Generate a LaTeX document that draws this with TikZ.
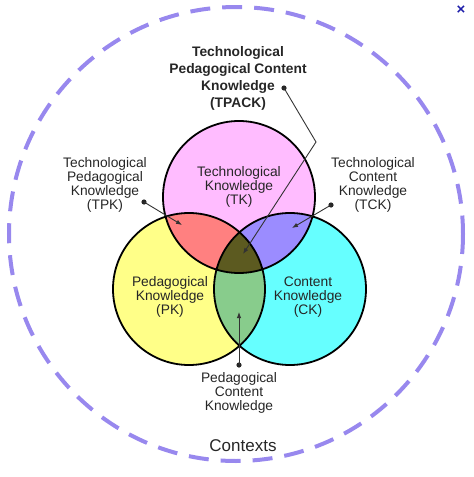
\documentclass[tikz,border=0pt]{standalone}
\usepackage{fontspec}
\setmainfont{Liberation Sans}
\usetikzlibrary{arrows.meta}
\definecolor{tkpink}{RGB}{255,188,255}
\definecolor{pkyellow}{RGB}{255,255,136}
\definecolor{ckcyan}{RGB}{102,255,255}
\definecolor{tpred}{RGB}{255,128,128}
\definecolor{tcviolet}{RGB}{155,140,255}
\definecolor{pcgreen}{RGB}{136,204,140}
\definecolor{tpcolive}{RGB}{92,90,32}
\definecolor{ctxpurple}{RGB}{152,136,238}
\definecolor{xblue}{RGB}{30,30,170}

\begin{document}
\begin{tikzpicture}[x=1pt,y=-1pt,>={Latex[length=6pt,width=4.5pt]},
  every node/.style={align=center,inner sep=0pt,text=black!85},
  lbl/.style={font=\fontsize{13.8}{14}\selectfont},
  pointer/.style={->,black!80,line width=.9pt}]
\useasboundingbox (0,0) rectangle (474,477);
% contexts ring
\draw[ctxpurple,line width=4pt,dash pattern=on 20pt off 12pt] (236,234) circle (227);
\node[font=\fontsize{17}{17}\selectfont] (ctx) at (243,446) {Contexts};
\node[font=\bfseries\fontsize{15}{15}\selectfont,text=xblue] (close) at (461,10) {×};
% the three knowledge circles
\coordinate (tk) at (239,197);\coordinate (pk) at (189,289);\coordinate (ck) at (290,289);
\fill[tkpink] (tk) circle (76);\fill[pkyellow] (pk) circle (76);\fill[ckcyan] (ck) circle (76);
\begin{scope}\clip (tk) circle (76);\fill[tpred] (pk) circle (76);\fill[tcviolet] (ck) circle (76);\end{scope}
\begin{scope}\clip (pk) circle (76);\fill[pcgreen] (ck) circle (76);\clip (tk) circle (76);\fill[tpcolive] (ck) circle (76);\end{scope}
\draw[line width=1.8pt] (tk) circle (76) (pk) circle (76) (ck) circle (76);
% circle labels
\node[lbl] (tklbl) at (239,187) {Technological\\Knowledge\\(TK)};
\node[lbl] (pklbl) at (170,297) {Pedagogical\\Knowledge\\(PK)};
\node[lbl] (cklbl) at (308,297) {Content\\Knowledge\\(CK)};
% overlap labels with pointers
\node[font=\bfseries\fontsize{13.8}{17}\selectfont] (tpack) at (238,78) {Technological\\Pedagogical Content\\Knowledge\\(TPACK)};
\node[lbl] (tpk) at (105,185) {Technological\\Pedagogical\\Knowledge\\(TPK)};
\node[lbl] (tck) at (373,185) {Technological\\Content\\Knowledge\\(TCK)};
\node[lbl] (pck) at (239,393) {Pedagogical\\Content\\Knowledge};
\coordinate (tpackdot) at (284,88);\coordinate (tpackbend) at (316,142);\coordinate (tpacktip) at (243,254);
\coordinate (tpkdot) at (144,202);\coordinate (tpktip) at (182,225);
\coordinate (tckdot) at (331,205);\coordinate (tcktip) at (292,228);
\coordinate (pckdot) at (239,365);\coordinate (pcktip) at (239,312);
\foreach \d in {tpackdot,tpkdot,tckdot,pckdot} \fill[black!85] (\d) circle (2.6);
\draw[pointer] (tpackdot)--(tpackbend)--(tpacktip);
\draw[pointer] (tpkdot)--(tpktip);\draw[pointer] (tckdot)--(tcktip);\draw[pointer] (pckdot)--(pcktip);
\end{tikzpicture}
\end{document}
